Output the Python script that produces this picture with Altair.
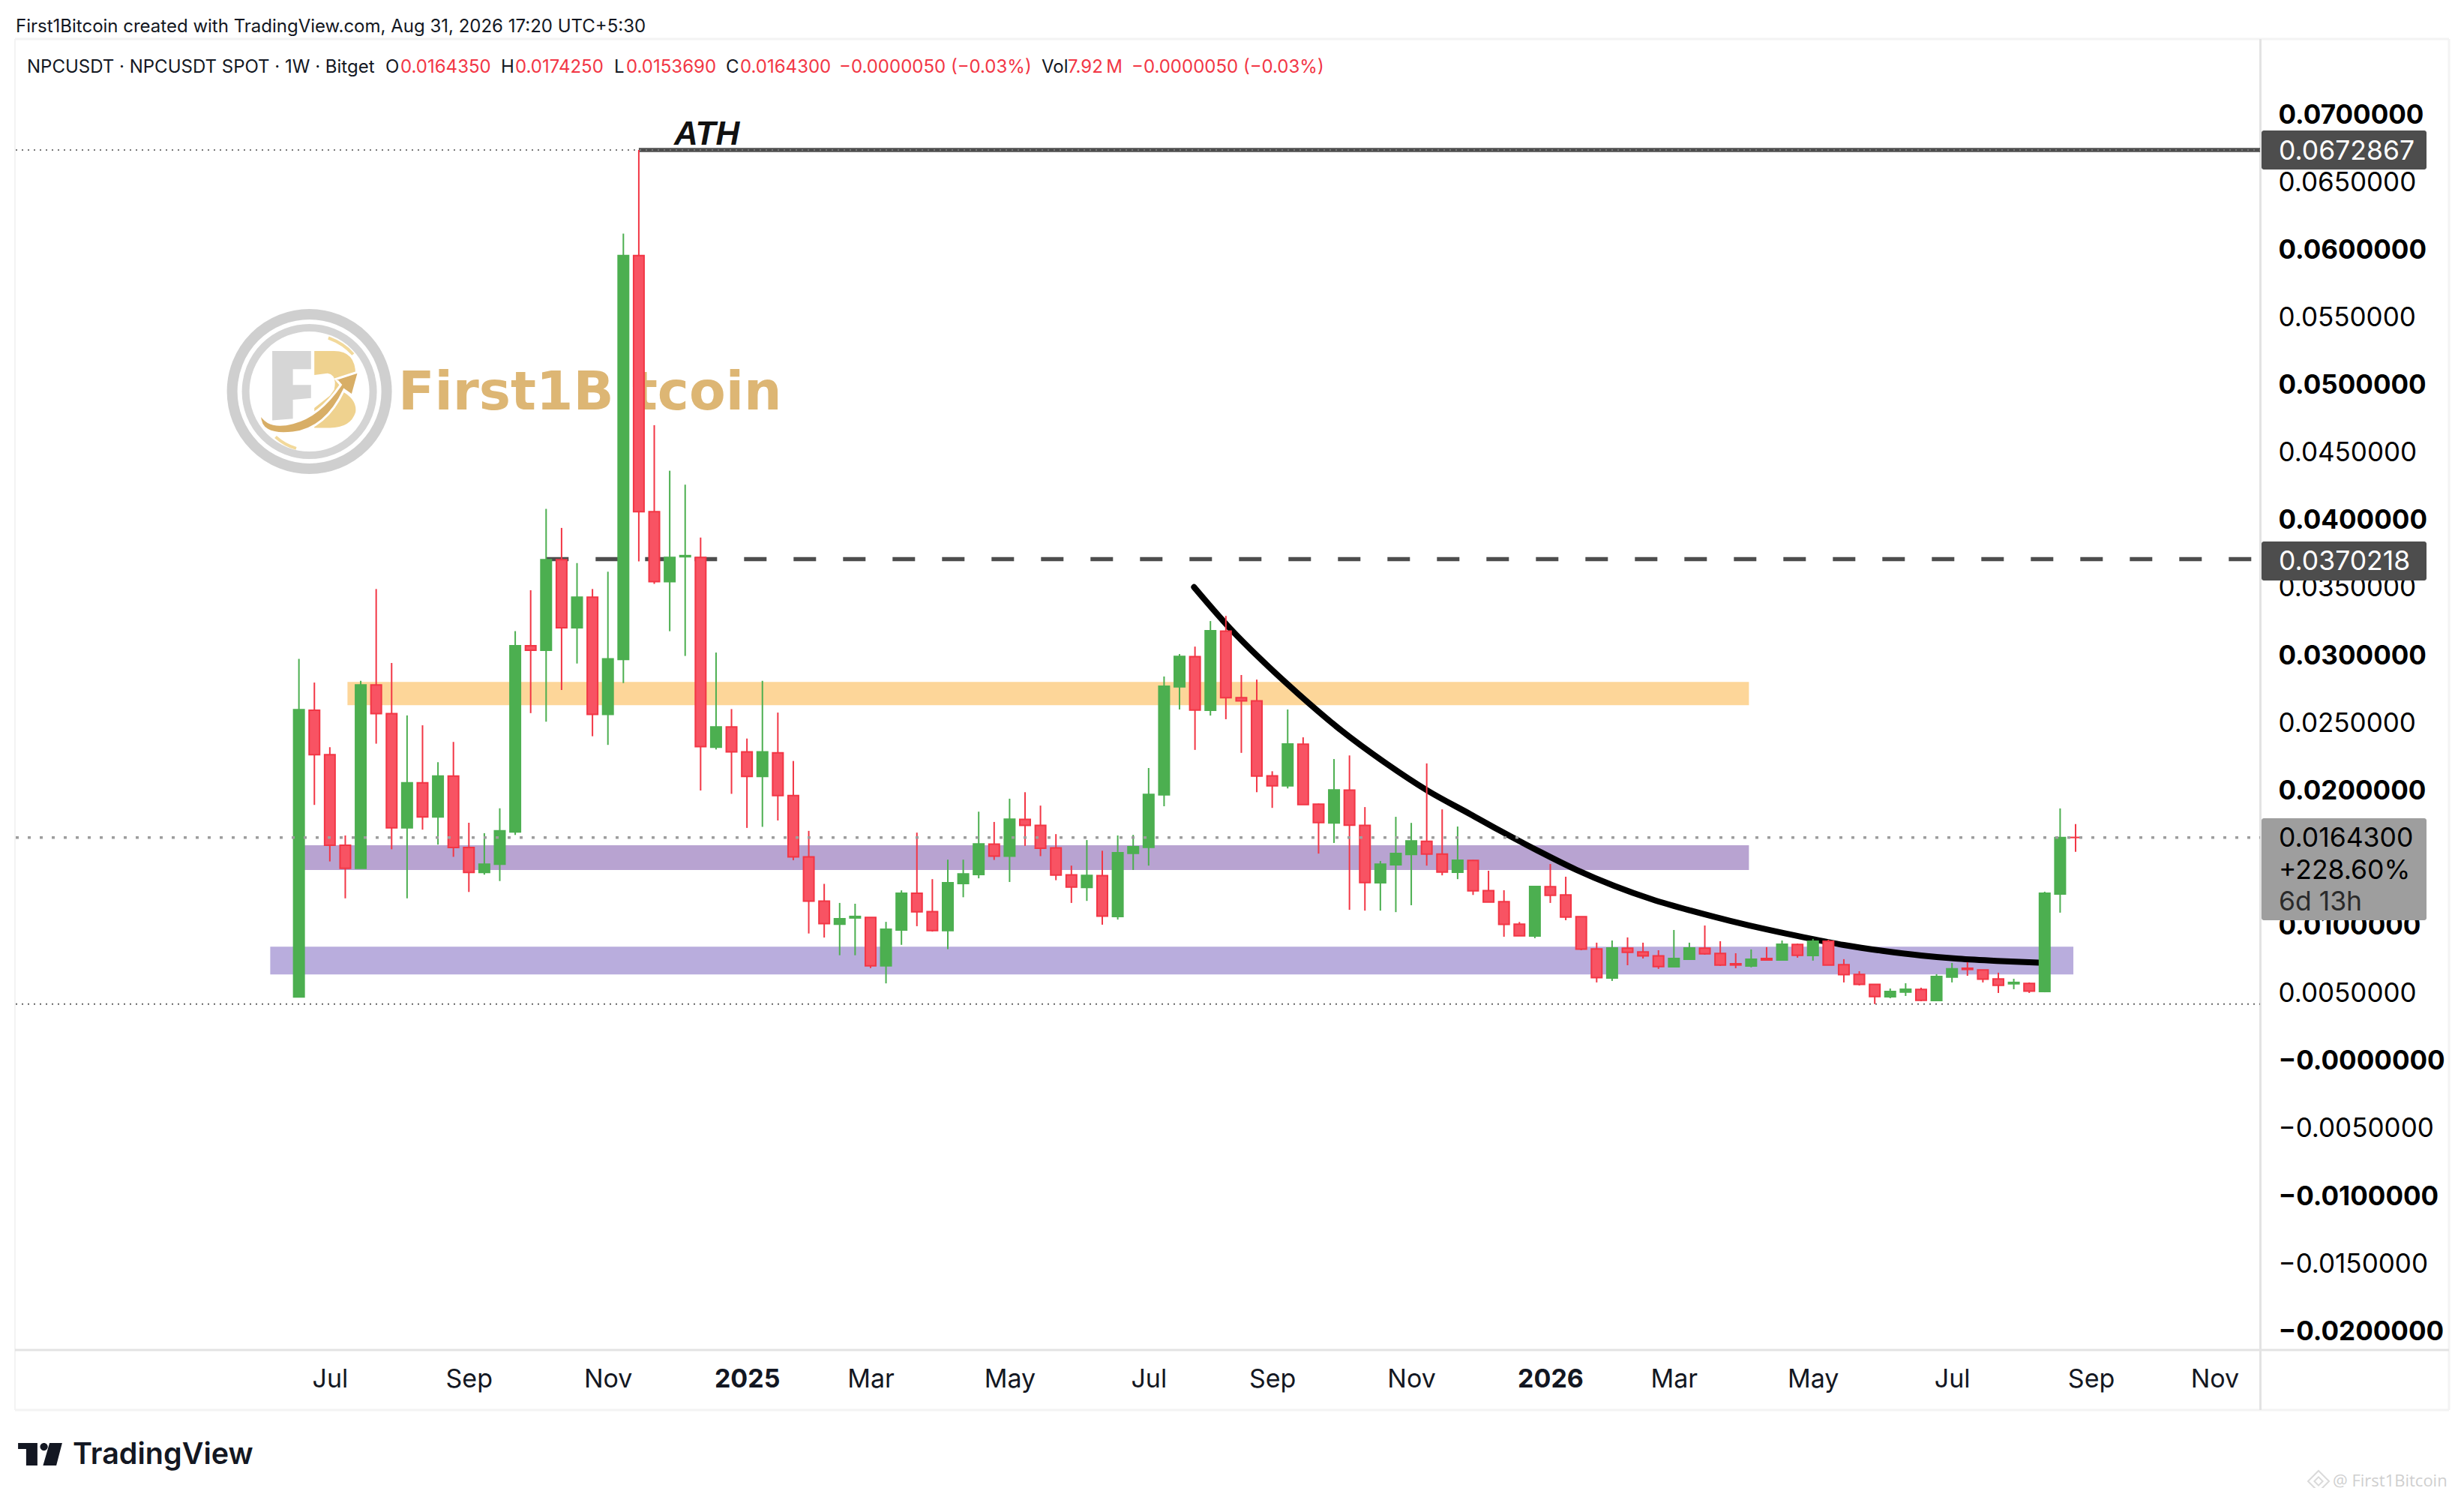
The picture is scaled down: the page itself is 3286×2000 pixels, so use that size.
import altair as alt
import pandas as pd

open_milli = [4.63,25.84,22.56,15.86,14.15,27.72,25.59,17.14,20.47,17.95,20.98,15.69,13.85,14.45,16.84,30.62,30.28,36.98,31.95,34.21,25.54,29.60,59.48,40.53,35.36,37.20,37.15,23.11,24.61,22.77,20.94,22.69,19.53,15.00,11.72,
10.02,10.48,10.51,6.94,9.59,12.31,10.95,9.55,13.03,13.69,15.94,15.05,17.77,17.32,15.66,13.67,12.74,13.61,10.59,15.26,15.71,19.59,27.58,29.81,25.84,31.70,26.77,26.54,20.99,20.25,23.33,18.89,17.51,19.93,17.32,13.08,14.41,15.18,16.15,15.20,13.86,14.73,12.50,
11.68,10.02,9.15,12.79,12.18,10.57,8.19,6.04,8.24,7.96,7.68,6.87,7.43,8.24,7.85,7.09,6.93,7.48,7.37,8.52,7.70,8.76,7.02,6.30,5.57,4.65,4.99,5.19,4.37,6.10,6.76,6.63,5.97,5.61,5.63,5.04,12.25,16.435]
high_milli = [29.64,27.89,23.11,16.58,28.02,34.81,29.34,25.46,24.73,22.00,23.50,17.52,16.75,18.59,31.69,34.72,40.74,39.33,36.73,34.81,36.09,61.10,67.2867,46.93,43.56,42.53,38.61,30.11,25.93,23.75,28.02,25.67,22.09,16.92,13.00,
11.59,11.53,10.53,10.19,12.52,16.79,13.35,14.79,14.79,18.34,17.58,19.30,19.78,18.79,16.68,14.35,16.24,15.45,16.58,16.62,21.57,28.34,30.00,30.55,32.44,32.82,28.45,28.11,21.33,25.90,23.84,18.94,22.23,22.50,18.68,14.69,17.96,17.51,21.91,18.51,17.24,14.77,13.97,
12.53,10.18,12.86,14.47,13.53,10.57,8.65,8.81,9.04,8.65,8.09,9.59,8.65,9.92,8.76,7.87,8.15,8.32,8.81,8.59,8.93,8.87,7.43,6.54,5.59,5.26,5.65,5.32,6.32,7.15,7.21,6.65,6.43,5.98,5.71,12.42,18.58,17.425]
low_milli = [4.63,18.84,14.66,11.93,14.15,23.37,15.56,11.93,17.01,15.90,15.00,12.40,13.68,13.21,16.62,25.63,24.99,27.34,29.30,23.92,23.28,27.85,36.85,35.19,31.69,29.86,19.91,22.94,19.66,17.14,17.22,17.69,14.75,9.33,9.03,
7.72,7.72,6.77,5.64,8.49,9.87,9.47,8.17,12.01,13.41,14.77,13.14,15.81,15.05,13.27,11.59,11.74,9.98,10.36,14.03,14.35,18.74,25.90,22.91,25.45,25.18,22.69,19.78,18.62,20.06,18.87,15.24,16.03,11.08,11.02,11.02,10.91,11.42,14.35,13.63,13.35,12.18,11.65,
9.09,9.16,8.98,11.59,10.31,8.09,5.71,5.82,6.98,7.48,6.71,6.82,7.43,7.76,6.93,6.76,6.82,7.32,7.37,7.54,7.32,7.00,5.71,5.48,4.11,4.54,4.71,4.32,4.37,5.71,6.20,5.71,4.93,5.21,4.93,4.98,10.87,15.369]
close_milli = [25.89,22.56,15.86,14.15,27.72,25.59,17.14,20.47,17.95,20.98,15.69,13.85,14.45,16.92,30.62,30.28,36.98,31.95,34.21,25.54,29.64,59.48,40.53,35.36,37.15,37.28,23.15,24.61,22.77,20.94,22.77,19.53,15.00,11.72,10.06,
10.42,10.59,6.94,9.64,12.31,10.93,9.55,13.08,13.73,15.96,15.05,17.79,17.32,15.64,13.65,12.76,13.63,10.61,15.30,15.75,19.61,27.62,29.83,25.86,31.72,26.77,26.54,20.97,20.25,23.35,18.87,17.53,19.95,17.34,13.10,14.46,15.24,16.17,15.20,13.88,14.75,12.48,11.65,
10.00,9.16,12.81,12.16,10.55,8.17,6.06,8.26,7.94,7.67,6.89,7.48,8.26,7.83,7.00,7.00,7.43,7.37,8.54,7.72,8.76,7.00,6.28,5.56,4.67,5.04,5.21,4.39,6.15,6.71,6.67,5.95,5.50,5.71,5.06,12.31,16.42,16.43]

curve_week = [57.94,60.23,62.18,64.69,67.47,70.26,73.05,75.83,77.72,80.2,82.67,85.15,87.6,90.1,92.6,95.05,97.5,100.0,102.5,105.0,107.4,109.9,112.6]
curve_milli = [34.95,31.95,29.70,27.05,24.35,22.00,19.90,18.15,16.95,15.45,14.05,12.85,11.85,11.02,10.28,9.62,9.03,8.48,8.05,7.70,7.46,7.30,7.18]

band_start = ["2024-07-09","2024-06-19","2024-06-04"]
band_end = ["2026-04-05","2026-04-05","2026-08-30"]
band_top = [27.94,15.86,8.36]
band_bottom = [26.22,14.03,6.30]
band_color = ["#FDD699","#B8A3D1","#B9ADDD"]

y_ticks = [0.07,0.065,0.06,0.055,0.05,0.045,0.04,0.035,0.03,0.025,0.02,0.01,0.005,0.0,-0.005,-0.01,-0.015,-0.02]
x_ticks = ["2024-07-01","2024-09-02","2024-11-04","2025-01-06","2025-03-03","2025-05-05","2025-07-07","2025-09-01","2025-11-03","2026-01-05","2026-03-02","2026-05-04","2026-07-06","2026-09-07","2026-11-02"]

ATH = 0.0672867
MID = 0.0370218
LAST = 0.01643
LOW = 0.00411

FONT = "Inter"
GREEN = "#4CAF50"
RED_FILL = "#F85363"
RED = "#F23645"
DARK = "#4D4D4D"
TEXT = "#131722"
OX, OY = 21, 53   # page position of the plot area
W, H = 2993, 1747

start = pd.Timestamp("2024-06-17")
dates = [start + pd.Timedelta(days=7 * i) for i in range(len(open_milli))]

def iso(t):
    return pd.Timestamp(t).strftime("%Y-%m-%dT%H:%M:%SZ")

def ms(t):
    return int(pd.Timestamp(t).value // 10**6)

x_left = start + pd.Timedelta(weeks=-18.33)
x_right = start + pd.Timedelta(weeks=126.94)

candles = pd.DataFrame({
    "d": [iso(t) for t in dates],
    "o": [v / 1000 for v in open_milli],
    "h": [v / 1000 for v in high_milli],
    "l": [v / 1000 for v in low_milli],
    "c": [v / 1000 for v in close_milli],
})
candles["dir"] = ["up" if c >= o else "down" for o, c in zip(open_milli, close_milli)]

x_scale = alt.Scale(type="utc", domain=[ms(x_left), ms(x_right)], padding=0)
y_scale = alt.Scale(domain=[-0.02148, 0.07544], nice=False, zero=False)
x_axis = alt.Axis(
    values=[ms(t) for t in x_ticks], title=None, grid=False, domain=False, ticks=False,
    labelExpr="utcmonth(datum.value)==0 ? utcFormat(datum.value,'%Y') : utcFormat(datum.value,'%b')",
    labelFont=FONT, labelFontSize=34, labelColor=TEXT, labelPadding=22, labelOverlap=False,
    labelFontWeight={"condition": {"test": "utcmonth(datum.value)==0", "value": "bold"}, "value": "normal"},
)
y_axis = alt.Axis(
    orient="right", values=y_ticks, title=None, grid=False, domain=False, ticks=False,
    labelExpr="(datum.value<0.0000001 ? '\u2212' : '') + format(abs(datum.value),'.7f')",
    labelFont=FONT, labelFontSize=35, labelColor="#000000", labelPadding=24, labelOverlap=False, labelLimit=400,
    labelOffset=2,
    labelFontWeight={"condition": {"test": "abs(round(datum.value*1000)%10)<0.5", "value": "bold"}, "value": "normal"},
)

def X(f):
    return alt.X(f + ":T", scale=x_scale, axis=x_axis, title=None)

def Y(f):
    return alt.Y(f + ":Q", scale=y_scale, axis=y_axis, title=None)

def hline(a, b, p, **mark):
    df = pd.DataFrame({"a": [iso(a)], "b": [iso(b)], "p": [p]})
    return alt.Chart(df).mark_rule(**mark).encode(x=X("a"), x2=alt.X2("b"), y=Y("p"))

def page_rule(x1, y1, x2, y2, color, width):
    return alt.Chart().mark_rule(color=color, strokeWidth=width).encode(
        x=alt.value(x1 - OX), x2=alt.value(x2 - OX), y=alt.value(y1 - OY), y2=alt.value(y2 - OY))

def label(txt, x, y, size=24, color=TEXT, weight="normal", align="left", font=FONT, style="normal"):
    return alt.Chart().mark_text(text=txt, font=font, fontSize=size, color=color, fontWeight=weight,
                                 align=align, baseline="middle", fontStyle=style).encode(
        x=alt.value(x - OX), y=alt.value(y - OY))

def box(x1, y1, x2, y2, color):
    return alt.Chart().mark_rect(color=color, cornerRadius=3).encode(
        x=alt.value(x1 - OX), x2=alt.value(x2 - OX), y=alt.value(y1 - OY), y2=alt.value(y2 - OY))

def glyph(path, cx, cy, r, fill=None, stroke=None, width=0):
    kw = dict(shape=path, size=(2 * r) ** 2, opacity=1, filled=fill is not None, strokeWidth=width)
    if fill:
        kw["fill"] = fill
    if stroke:
        kw["stroke"] = stroke
    return alt.Chart().mark_point(**kw).encode(x=alt.value(cx - OX), y=alt.value(cy - OY))

bands_df = pd.DataFrame({"a": band_start, "b": band_end,
                         "t": [v / 1000 for v in band_top], "u": [v / 1000 for v in band_bottom],
                         "col": band_color})
bands = alt.Chart(bands_df).mark_rect().encode(
    x=X("a"), x2=alt.X2("b"), y=Y("t"), y2=alt.Y2("u"), color=alt.Color("col:N", scale=None))

curve_df = pd.DataFrame({"d": [iso(start + pd.Timedelta(weeks=w)) for w in curve_week],
                         "p": [v / 1000 for v in curve_milli]})
curve = alt.Chart(curve_df).mark_line(color="#000000", strokeWidth=8, strokeCap="round",
                                      interpolate="monotone").encode(x=X("d"), y=Y("p"))

dir_dom = ["up", "down"]
wicks = alt.Chart(candles).mark_rule(strokeWidth=2).encode(
    x=X("d"), y=Y("h"), y2=alt.Y2("l"),
    color=alt.Color("dir:N", scale=alt.Scale(domain=dir_dom, range=[GREEN, RED]), legend=None))
bodies = alt.Chart(candles).mark_bar(size=14, strokeWidth=2).encode(
    x=X("d"), y=Y("o"), y2=alt.Y2("c"),
    fill=alt.Fill("dir:N", scale=alt.Scale(domain=dir_dom, range=[GREEN, RED_FILL]), legend=None),
    stroke=alt.Stroke("dir:N", scale=alt.Scale(domain=dir_dom, range=[GREEN, RED]), legend=None))

GOLD = "#DDB674"
LX, LY, LR = 412.6, 522, 110
logo = [
    alt.Chart().mark_point(shape="circle", size=(2 * 103) ** 2, filled=False, stroke="#CFCFCF",
                           strokeWidth=14, opacity=1).encode(x=alt.value(LX - OX), y=alt.value(LY - OY)),
    alt.Chart().mark_point(shape="circle", size=(2 * 85) ** 2, filled=False, stroke="#D4D4D4",
                           strokeWidth=10, opacity=1).encode(x=alt.value(LX - OX), y=alt.value(LY - OY)),
    glyph("M-.45 -.49L.02 -.49L.02 -.27L-.2 -.27L-.2 -.08L.02 -.08L.02 .08L-.2 .1L-.2 .33L-.45 .35Z", LX, LY, LR, fill="#D6D6D6"),
    glyph("M.06 -.49L.3 -.49Q.56 -.49 .56 -.2Q.56 -.05 .4 0Q.58 .1 .56 .25Q.5 .44 .25 .44L.06 .44L.06 .2L.25 .05L.3 -.02Q.34 -.2 .22 -.22L.06 -.2Z", LX, LY, LR, fill="#EFD28F"),
    glyph("M-.6 .26Q-.62 .55 -.2 .5Q.2 .45 .42 -.02L.52 .05L.6 -.24L.32 -.15L.38 -.08Q.12 .3 -.2 .38Q-.5 .46 -.6 .26Z", LX, LY, LR, fill="#D8AE66", stroke="#FFFFFF", width=3),
    glyph("M.23 -.65Q.42 -.58 .53 -.45", LX, LY, LR, stroke="#F2D99B", width=4),
    glyph("M-.41 .55Q-.3 .65 -.16 .69", LX, LY, LR, stroke="#F2D99B", width=4),
    label("First1Bitcoin", 531, 525, size=71, color=GOLD, weight="bold", font="DejaVu Sans"),
]

frame = [
    page_rule(OX - 1, 52, 3266, 52, "#F3F3F3", 3),
    page_rule(20, 52, 20, 1880, "#F3F3F3", 2),
    page_rule(20, 1880, 3266, 1880, "#F3F3F3", 3),
    page_rule(3266, 52, 3266, 1880, "#F3F3F3", 3),
    page_rule(20, 1800, 3266, 1800, "#E3E3E3", 3),
    page_rule(3014.5, 52, 3014.5, 1880, "#E3E3E3", 3),
]

levels = [
    hline(dates[22], x_right, ATH, color=DARK, strokeWidth=5.5),
    hline(x_left, x_right, ATH, color="#787878", strokeWidth=2, strokeDash=[2, 6]),
    hline(x_left, x_right, LOW, color="#666666", strokeWidth=2, strokeDash=[2, 6]),
    hline(dates[16], x_right, MID, color=DARK, strokeWidth=5.5, strokeDash=[30, 36]),
]
last_line = hline(x_left, x_right, LAST, color="#9E9E9E", strokeWidth=3.5, strokeDash=[4, 12])

boxes = [
    box(3016, 174, 3236, 226, DARK),
    label("0.0672867", 3039, 202, size=35.5, color="#FFFFFF"),
    box(3016, 722, 3236, 774, DARK),
    label("0.0370218", 3039, 749, size=35.5, color="#FFFFFF"),
    box(3016, 1091, 3236, 1227, "#9E9E9E"),
    label("0.0164300", 3039, 1118, size=35.5, color="#000000"),
    label("+228.60%", 3039, 1161, size=35.5, color="#000000"),
    label("6d 13h", 3039, 1203, size=35.5, color="#2A2A2A"),
]

header = [
    label("First1Bitcoin created with TradingView.com, Aug 31, 2026 17:20 UTC+5:30", 21, 36),
    label("NPCUSDT \u00b7 NPCUSDT SPOT \u00b7 1W \u00b7 Bitget", 36, 90),
    label("O", 514, 90), label("0.0164350", 534, 90, color=RED),
    label("H", 668, 90), label("0.0174250", 687, 90, color=RED),
    label("L", 819, 90), label("0.0153690", 835, 90, color=RED),
    label("C", 968, 90), label("0.0164300", 987, 90, color=RED),
    label("\u22120.0000050 (\u22120.03%)", 1119, 90, color=RED),
    label("Vol", 1389, 90), label("7.92\u2009M", 1424, 90, color=RED),
    label("\u22120.0000050 (\u22120.03%)", 1509, 90, color=RED),
    label("ATH", 899, 180, size=44, color="#111111", weight="bold", style="italic", font="Liberation Sans"),
]

footer = [
    glyph("M-.98 -.5L-.12 -.5L-.12 .5L-.62 .5L-.62 -.23L-.98 -.23Z M.0 -.33A.17 .17 0 1 0 .34 -.33A.17 .17 0 1 0 0 -.33Z M.42 -.5L.98 -.5L.72 .5L.13 .5Z",
          53.5, 1939, 30, fill="#131722"),
    label("TradingView", 97, 1940, size=39.5, color="#131722", weight=600),
    glyph("M0 -1L1 0L0 1L-1 0Z M0 -.4L.4 0L0 .4L-.4 0Z", 3092, 1975, 14, stroke="#DADADA", width=2),
    label("@ First1Bitcoin", 3111, 1975, size=22, color="#CFCFCF", font="Open Sans"),
]

layers = frame + [bands] + logo + levels + [curve, wicks, bodies, last_line] + boxes + header + footer

chart = alt.layer(*layers).properties(
    width=W, height=H,
    padding={"left": 13, "top": 45, "right": 264, "bottom": 184},
    autosize=alt.AutoSizeParams(type="none"),
    background="#FFFFFF",
).configure_view(strokeWidth=0)

chart.save("out.html", embed_options={"renderer": "svg", "actions": False})
